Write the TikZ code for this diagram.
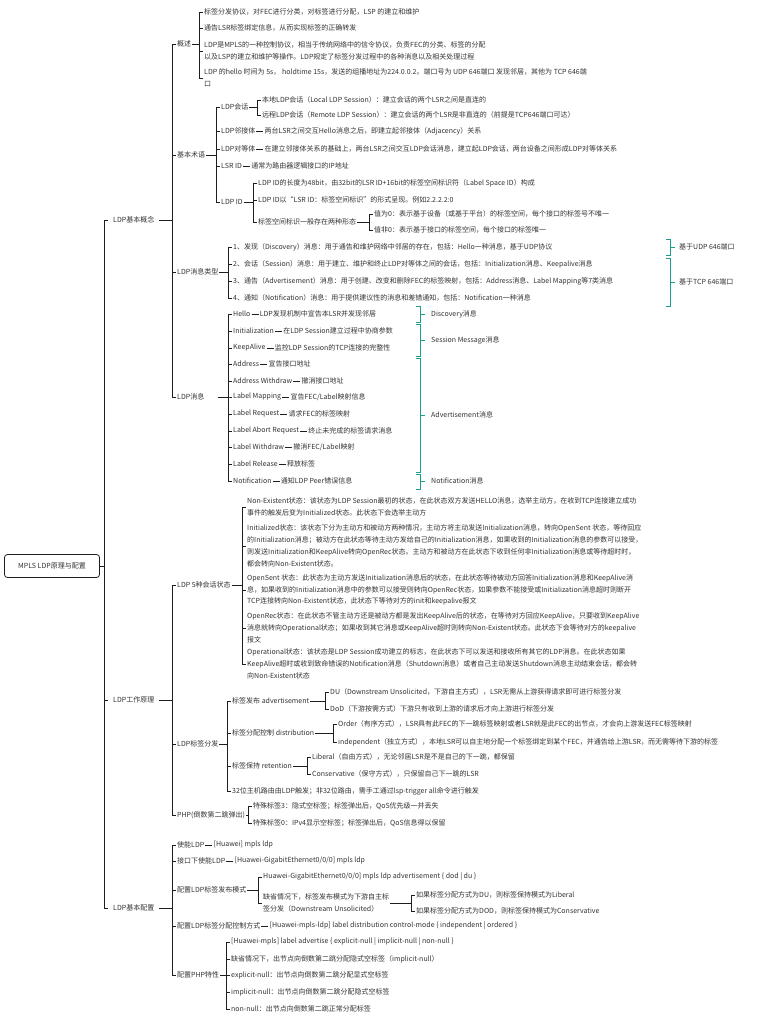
\documentclass[tikz,border=0pt]{standalone}
\usepackage{fontspec}
\setmainfont{Noto Sans CJK SC}
\usepackage{xcolor}
\usetikzlibrary{positioning}
\definecolor{txt}{RGB}{51,51,51}
\definecolor{ln}{RGB}{30,30,30}
\definecolor{tl}{RGB}{26,160,140}

\begin{document}
\begin{tikzpicture}[x=1pt,y=-1pt,font=\fontsize{7}{11.8}\selectfont]
    \tikzstyle{T}=[anchor=west,inner xsep=1pt,inner ysep=1pt,text=txt,align=left]
    \tikzstyle{H}=[T,inner xsep=5pt]
    \tikzstyle{E}=[draw=ln,line width=0.8pt]
    \tikzstyle{K}=[draw=tl,line width=0.8pt]
    \tikzstyle{R}=[draw=ln,line width=0.8pt,rounded corners=3pt,minimum width=95pt,minimum height=23pt,text=txt]

    \fill[white] (0,0) rectangle (768,1024);
    \useasboundingbox (0,0) rectangle (768,1024);

    % Root and first level
    \node [R] (root) at (52,566) {MPLS LDP原理与配置};
    \node [H] (c1) at (108,220) {LDP基本概念};
    \node [H] (c2) at (108,700) {LDP工作原理};
    \node [H] (c3) at (108,908) {LDP基本配置};

    % LDP基本概念
    \node [T] (ov)  at (176,44)  {概述};
    \node [T] (trm) at (176,155) {基本术语};
    \node [T] (typ) at (176,272) {LDP消息类型};
    \node [T,text width=40pt] (msg) at (176,397) {LDP消息};

    \node [T] (o1) at (203,12) {标签分发协议，对FEC进行分类，对标签进行分配，LSP 的建立和维护};
    \node [T] (o2) at (203,28) {通告LSR标签绑定信息，从而实现标签的正确转发};
    \node [T] (o3) at (203,51) {LDP是MPLS的一种控制协议，相当于传统网络中的信令协议，负责FEC的分类、标签的分配\\以及LSP的建立和维护等操作。LDP规定了标签分发过程中的各种消息以及相关处理过程};
    \node [T] (o4) at (203,78) {LDP 的hello 时间为 5s， holdtime 15s，发送的组播地址为224.0.0.2。端口号为 UDP 646端口 发现邻居，其他为 TCP 646端\\口};

    \node [T] (ses) at (220,107) {LDP会话};
    \node [T] (adj) at (220,131) {LDP邻接体};
    \node [T] (peer) at (220,149) {LDP对等体};
    \node [T] (lsr) at (220,166) {LSR ID};
    \node [T] (lid) at (220,202) {LDP ID};
    \node [T,right=7pt of adj]  (adjd)  {两台LSR之间交互Hello消息之后，即建立起邻接体（Adjacency）关系};
    \node [T,right=7pt of peer] (peerd) {在建立邻接体关系的基础上，两台LSR之间交互LDP会话消息，建立起LDP会话，两台设备之间形成LDP对等体关系};
    \node [T,right=7pt of lsr]  (lsrd)  {通常为路由器逻辑接口的IP地址};

    \node [T] (s1) at (261,100) {本地LDP会话（Local LDP Session）：建立会话的两个LSR之间是直连的};
    \node [T] (s2) at (261,115) {远程LDP会话（Remote LDP Session）：建立会话的两个LSR是非直连的（前提是TCP646端口可达）};

    \node [T] (i1) at (257,183) {LDP ID的长度为48bit，由32bit的LSR ID+16bit的标签空间标识符（Label Space ID）构成};
    \node [T] (i2) at (257,200) {LDP ID以“LSR ID：标签空间标识”的形式呈现。例如2.2.2.2:0};
    \node [T] (i3) at (257,222) {标签空间标识一般存在两种形态};
    \node [T] (v1) at (373,214) {值为0：表示基于设备（或基于平台）的标签空间，每个接口的标签号不唯一};
    \node [T] (v2) at (373,230) {值非0：表示基于接口的标签空间，每个接口的标签唯一};

    \node [T] (t1) at (232,247) {1、发现（Discovery）消息：用于通告和维护网络中邻居的存在，包括：Hello一种消息，基于UDP协议};
    \node [T] (t2) at (232,264) {2、会话（Session）消息：用于建立、维护和终止LDP对等体之间的会话，包括：Initialization消息、Keepalive消息};
    \node [T] (t3) at (232,281) {3、通告（Advertisement）消息：用于创建、改变和删除FEC的标签映射，包括：Address消息、Label Mapping等7类消息};
    \node [T] (t4) at (232,298) {4、通知（Notification）消息：用于提供建议性的消息和差错通知，包括：Notification一种消息};

    \node [T] (m1)  at (232,314) {Hello};
    \node [T] (m2)  at (232,331) {Initialization};
    \node [T] (m3)  at (232,348) {KeepAlive};
    \node [T] (m4)  at (232,364) {Address};
    \node [T] (m5)  at (232,381) {Address Withdraw};
    \node [T] (m6)  at (232,397) {Label Mapping};
    \node [T] (m7)  at (232,414) {Label Request};
    \node [T] (m8)  at (232,431) {Label Abort Request};
    \node [T] (m9)  at (232,447) {Label Withdraw};
    \node [T] (m10) at (232,464) {Label Release};
    \node [T] (m11) at (232,481) {Notification};
    \node [T,right=7pt of m1]  (m1d)  {LDP发现机制中宣告本LSR并发现邻居};
    \node [T,right=7pt of m2]  (m2d)  {在LDP Session建立过程中协商参数};
    \node [T,right=7pt of m3]  (m3d)  {监控LDP Session的TCP连接的完整性};
    \node [T,right=7pt of m4]  (m4d)  {宣告接口地址};
    \node [T,right=7pt of m5]  (m5d)  {撤消接口地址};
    \node [T,right=7pt of m6]  (m6d)  {宣告FEC/Label映射信息};
    \node [T,right=7pt of m7]  (m7d)  {请求FEC的标签映射};
    \node [T,right=7pt of m8]  (m8d)  {终止未完成的标签请求消息};
    \node [T,right=7pt of m9]  (m9d)  {撤消FEC/Label映射};
    \node [T,right=7pt of m10] (m10d) {释放标签};
    \node [T,right=7pt of m11] (m11d) {通知LDP Peer错误信息};

    % Brackets on the right
    \draw [K] (666,239) -- (670,239) -- (670,255) -- (666,255);
    \draw [K] (666,258) -- (670,258) -- (670,306) -- (666,306);
    \coordinate (k1) at (670,247);
    \coordinate (k2) at (670,282);
    \draw [K] (k1) -- ++(5,0);
    \draw [K] (k2) -- ++(5,0);
    \node [T] (udp) at (678,247) {基于UDP 646端口};
    \node [T] (tcp) at (678,282) {基于TCP 646端口};

    \draw [K] (416,306) -- (420,306) -- (420,322) -- (416,322);
    \draw [K] (416,324) -- (420,324) -- (420,356) -- (416,356);
    \draw [K] (416,358) -- (420,358) -- (420,472) -- (416,472);
    \draw [K] (416,474) -- (420,474) -- (420,489) -- (416,489);
    \coordinate (k3) at (420,314);
    \coordinate (k4) at (420,340);
    \coordinate (k5) at (420,415);
    \coordinate (k6) at (420,481);
    \foreach \k in {k3,k4,k5,k6} \draw [K] (\k) -- ++(5,0);
    \node [T] (dis) at (430,314) {Discovery消息};
    \node [T] (sm)  at (430,340) {Session Message消息};
    \node [T] (adv) at (430,415) {Advertisement消息};
    \node [T] (ntf) at (430,481) {Notification消息};

    % LDP工作原理
    \node [T] (st)  at (176,585) {LDP 5种会话状态};
    \node [T] (dst) at (176,744) {LDP标签分发};
    \node [T] (php) at (176,815) {PHP(倒数第二跳弹出)};

    \node [T] (st1) at (246,507) {Non-Existent状态：该状态为LDP Session最初的状态，在此状态双方发送HELLO消息，选举主动方，在收到TCP连接建立成功\\事件的触发后变为Initialized状态。此状态下会选举主动方};
    \node [T] (st2) at (246,546) {Initialized状态：该状态下分为主动方和被动方两种情况，主动方将主动发送Initialization消息，转向OpenSent 状态，等待回应\\的Initialization消息；被动方在此状态等待主动方发给自己的Initialization消息，如果收到的Initialization消息的参数可以接受，\\则发送Initialization和KeepAlive转向OpenRec状态。主动方和被动方在此状态下收到任何非Initialization消息或等待超时时，\\都会转向Non-Existent状态。};
    \node [T] (st3) at (246,590) {OpenSent 状态：此状态为主动方发送Initialization消息后的状态，在此状态等待被动方回答Initialization消息和KeepAlive消\\息，如果收到的Initialization消息中的参数可以接受则转向OpenRec状态，如果参数不能接受或Initialization消息超时则断开\\TCP连接转向Non-Existent状态，此状态下等待对方的init和keepalive报文};
    \node [T] (st4) at (246,628) {OpenRec状态：在此状态不管主动方还是被动方都是发出KeepAlive后的状态，在等待对方回应KeepAlive，只要收到KeepAlive\\消息就转向Operational状态；如果收到其它消息或KeepAlive超时则转向Non-Existent状态。此状态下会等待对方的keepalive\\报文};
    \node [T] (st5) at (246,664) {Operational状态：该状态是LDP Session成功建立的标志，在此状态下可以发送和接收所有其它的LDP消息。在此状态如果\\KeepAlive超时或收到致命错误的Notification消息（Shutdown消息）或者自己主动发送Shutdown消息主动结束会话，都会转\\向Non-Existent状态};

    \node [T] (a1) at (231,701) {标签发布 advertisement};
    \node [T] (a2) at (231,733) {标签分配控制 distribution};
    \node [T] (a3) at (231,766) {标签保持 retention};
    \node [T] (a4) at (231,791) {32位主机路由由LDP触发；非32位路由，需手工通过lsp-trigger all命令进行触发};
    \node [T] (du)  at (329,692) {DU（Downstream Unsolicited，下游自主方式），LSR无需从上游获得请求即可进行标签分发};
    \node [T] (dod) at (329,709) {DoD（下游按需方式）下游只有收到上游的请求后才向上游进行标签分发};
    \node [T] (ord) at (337,724) {Order（有序方式），LSR具有此FEC的下一跳标签映射或者LSR就是此FEC的出节点，才会向上游发送FEC标签映射};
    \node [T] (ind) at (337,742) {independent（独立方式），本地LSR可以自主地分配一个标签绑定到某个FEC，并通告给上游LSR，而无需等待下游的标签};
    \node [T] (lib) at (311,757) {Liberal（自由方式），无论邻居LSR是不是自己的下一跳，都保留};
    \node [T] (con) at (311,774) {Conservative（保守方式），只保留自己下一跳的LSR};

    \node [T] (p1) at (252,806) {特殊标签3：隐式空标签；标签弹出后，QoS优先级一并丢失};
    \node [T] (p2) at (252,823) {特殊标签0：IPv4显示空标签；标签弹出后，QoS信息得以保留};

    % LDP基本配置
    \node [T] (e1) at (176,845) {使能LDP};
    \node [T] (e2) at (176,861) {接口下使能LDP};
    \node [T] (e3) at (176,890) {配置LDP标签发布模式};
    \node [T] (e4) at (176,926) {配置LDP标签分配控制方式};
    \node [T] (e5) at (176,975) {配置PHP特性};
    \node [T,right=7pt of e1] (e1d) {[Huawei] mpls ldp};
    \node [T,right=7pt of e2] (e2d) {[Huawei-GigabitEthernet0/0/0] mpls ldp};
    \node [T,right=7pt of e4] (e4d) {[Huawei-mpls-ldp] label distribution control-mode \{ independent | ordered \}};

    \node [T] (f1) at (262,877) {Huawei-GigabitEthernet0/0/0] mpls ldp advertisement \{ dod | du \}};
    \node [T] (f2) at (262,903) {缺省情况下，标签发布模式为下游自主标\\签分发（Downstream Unsolicited）};
    \node [T] (g1) at (415,895) {如果标签分配方式为DU，则标签保持模式为Liberal};
    \node [T] (g2) at (415,911) {如果标签分配方式为DOD，则标签保持模式为Conservative};

    \node [T] (h1) at (230,942)  {[Huawei-mpls] label advertise \{ explicit-null | implicit-null | non-null \}};
    \node [T] (h2) at (230,959)  {缺省情况下，出节点向倒数第二跳分配隐式空标签（implicit-null）};
    \node [T] (h3) at (230,975)  {explicit-null：出节点向倒数第二跳分配显式空标签};
    \node [T] (h4) at (230,992)  {implicit-null：出节点向倒数第二跳分配隐式空标签};
    \node [T] (h5) at (230,1009) {non-null：出节点向倒数第二跳正常分配标签};

    % Tree lines
    \foreach \c in {c1,c2,c3} \draw [E] (root.east) -| ([xshift=-4pt]\c.west) |- (\c.west);
    \foreach \c in {ov,trm,typ,msg} \draw [E] (c1.east) -| ([xshift=-4pt]\c.west) |- (\c.west);
    \foreach \c in {st,dst,php} \draw [E] (c2.east) -| ([xshift=-4pt]\c.west) |- (\c.west);
    \foreach \c in {e1,e2,e3,e4,e5} \draw [E] (c3.east) -| ([xshift=-4pt]\c.west) |- (\c.west);
    \foreach \c in {o1,o2,o3,o4} \draw [E] (ov.east) -| ([xshift=-4pt]\c.west) |- (\c.west);
    \foreach \c in {ses,adj,peer,lsr,lid} \draw [E] (trm.east) -| ([xshift=-4pt]\c.west) |- (\c.west);
    \foreach \c in {s1,s2} \draw [E] (ses.east) -| ([xshift=-4pt]\c.west) |- (\c.west);
    \foreach \c in {i1,i2,i3} \draw [E] (lid.east) -| ([xshift=-4pt]\c.west) |- (\c.west);
    \foreach \c in {v1,v2} \draw [E] (i3.east) -| ([xshift=-4pt]\c.west) |- (\c.west);
    \foreach \c in {t1,t2,t3,t4} \draw [E] (typ.east) -| ([xshift=-4pt]\c.west) |- (\c.west);
    \foreach \c in {m1,m2,m3,m4,m5,m6,m7,m8,m9,m10,m11} \draw [E] (msg.east) -| ([xshift=-4pt]\c.west) |- (\c.west);
    \foreach \c in {st1,st2,st3,st4,st5} \draw [E] (st.east) -| ([xshift=-4pt]\c.west) |- (\c.west);
    \foreach \c in {a1,a2,a3,a4} \draw [E] (dst.east) -| ([xshift=-4pt]\c.west) |- (\c.west);
    \foreach \c in {du,dod} \draw [E] (a1.east) -| ([xshift=-4pt]\c.west) |- (\c.west);
    \foreach \c in {ord,ind} \draw [E] (a2.east) -| ([xshift=-4pt]\c.west) |- (\c.west);
    \foreach \c in {lib,con} \draw [E] (a3.east) -| ([xshift=-4pt]\c.west) |- (\c.west);
    \foreach \c in {p1,p2} \draw [E] (php.east) -| ([xshift=-4pt]\c.west) |- (\c.west);
    \foreach \c in {f1,f2} \draw [E] (e3.east) -| ([xshift=-4pt]\c.west) |- (\c.west);
    \foreach \c in {g1,g2} \draw [E] (f2.east) -| ([xshift=-4pt]\c.west) |- (\c.west);
    \foreach \c in {h1,h2,h3,h4,h5} \draw [E] (e5.east) -| ([xshift=-4pt]\c.west) |- (\c.west);

    % Dashes between a term and its text
    \foreach \a in {adj,peer,lsr,m1,m2,m3,m4,m5,m6,m7,m8,m9,m10,m11,e1,e2,e4} \draw [E] (\a) -- (\a d);
\end{tikzpicture}
\end{document}
